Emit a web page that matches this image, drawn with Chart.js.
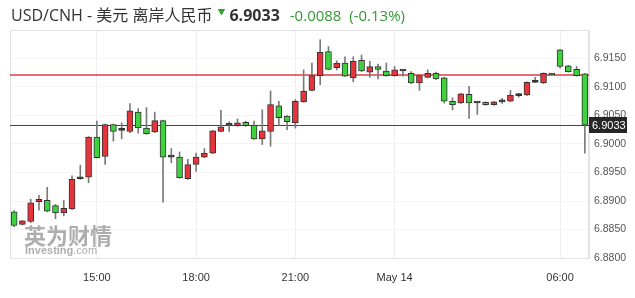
<!DOCTYPE html>
<html>
<head>
<meta charset="utf-8">
<script src="https://cdn.jsdelivr.net/npm/chart.js@4.4.0/dist/chart.umd.min.js"></script>
<style>
html,body{margin:0;padding:0;background:#fff;}
#wrap{position:relative;width:635px;height:298px;overflow:hidden;}
#head{position:absolute;left:11px;top:2px;font-family:"Open Sans","Noto Sans CJK SC",sans-serif;font-size:16px;color:#333;white-space:nowrap;z-index:2;}
#head .arr{color:#2fa52f;font-size:8px;vertical-align:6px;margin-left:5px;}
#head .px{font-weight:bold;margin-left:4px;}
#head .chg{color:#339933;font-size:15px;margin-left:10px;}
canvas{position:absolute;left:0;top:0;}
</style>
</head>
<body>
<div id="wrap">
  <div id="head">USD/CNH - 美元 离岸人民币<span class="arr">▼</span><span class="px">6.9033</span><span class="chg">-0.0088&nbsp; (-0.13%)</span></div>
  <canvas id="c" width="635" height="298"></canvas>
</div>
<script>
// 15 minute candles, USD/CNH
const labels = ['12:30','12:45','13:00','13:15','13:30','13:45','14:00','14:15','14:30','14:45',
  '15:00','15:15','15:30','15:45','16:00','16:15','16:30','16:45','17:00','17:15',
  '17:30','17:45','18:00','18:15','18:30','18:45','19:00','19:15','19:30','19:45',
  '20:00','20:15','20:30','20:45','21:00','21:15','21:30','21:45','22:00','22:15',
  '22:30','22:45','23:00','23:15','23:30','23:45','May 14','00:15','00:30','00:45',
  '01:00','01:15','01:30','01:45','02:00','02:15','02:30','02:45','03:00','03:15',
  '03:30','03:45','04:00','04:15','04:30','04:45','06:00','06:15','06:30','06:45'];
const shownLabels = ['15:00','18:00','21:00','May 14','06:00'];

const open  = [6.8881,6.8859,6.8864,6.8899,6.8901,6.8892,6.8879,6.8886,6.8939,6.8942,
  6.9012,6.8978,6.9034,6.9024,6.9022,6.9056,6.9028,6.9021,6.9041,6.8977,
  6.8977,6.8939,6.8964,6.8977,6.8984,6.9022,6.9033,6.9032,6.9038,6.9033,
  6.9009,6.9022,6.9067,6.9049,6.9037,6.9074,6.9094,6.9120,6.9162,6.9134,
  6.9142,6.9116,6.9147,6.9126,6.9136,6.9128,6.9120,6.9128,6.9124,6.9107,
  6.9117,6.9124,6.9116,6.9075,6.9072,6.9087,6.9072,6.9073,6.9069,6.9074,
  6.9075,6.9085,6.9086,6.9108,6.9107,6.9123,6.9165,6.9137,6.9131,6.9123];
const high  = [6.8883,6.8866,6.8903,6.8910,6.8924,6.8894,6.8901,6.8944,6.8963,6.9013,
  6.9040,6.9035,6.9035,6.9037,6.9071,6.9062,6.9064,6.9056,6.9042,6.8992,
  6.8986,6.8973,6.8984,6.8992,6.9024,6.9059,6.9039,6.9044,6.9040,6.9040,
  6.9060,6.9093,6.9075,6.9050,6.9078,6.9130,6.9142,6.9183,6.9171,6.9146,
  6.9153,6.9153,6.9156,6.9145,6.9140,6.9142,6.9136,6.9128,6.9127,6.9121,
  6.9130,6.9126,6.9117,6.9081,6.9089,6.9101,6.9073,6.9074,6.9075,6.9080,
  6.9094,6.9089,6.9109,6.9117,6.9125,6.9124,6.9166,6.9138,6.9136,6.9124];
const low   = [6.8855,6.8858,6.8862,6.8884,6.8881,6.8869,6.8874,6.8885,6.8938,6.8932,
  6.8975,6.8964,6.9005,6.9009,6.9020,6.9019,6.9017,6.9020,6.8898,6.8967,
  6.8940,6.8938,6.8952,6.8976,6.8983,6.9021,6.9022,6.9031,6.9031,6.9008,
  6.8999,6.8996,6.9033,6.9025,6.9028,6.9073,6.9093,6.9104,6.9130,6.9130,
  6.9118,6.9109,6.9127,6.9117,6.9114,6.9119,6.9119,6.9119,6.9106,6.9094,
  6.9116,6.9113,6.9072,6.9060,6.9071,6.9045,6.9052,6.9068,6.9068,6.9071,
  6.9074,6.9082,6.9085,6.9108,6.9106,6.9121,6.9133,6.9126,6.9119,6.8984];
const close = [6.8857,6.8865,6.8897,6.8903,6.8882,6.8879,6.8887,6.8938,6.8939,6.9012,
  6.8976,6.9034,6.9022,6.9024,6.9058,6.9028,6.9018,6.9041,6.8977,6.8977,
  6.8941,6.8964,6.8977,6.8984,6.9023,6.9030,6.9033,6.9037,6.9032,6.9009,
  6.9023,6.9069,6.9046,6.9039,6.9075,6.9093,6.9120,6.9161,6.9131,6.9142,
  6.9119,6.9145,6.9128,6.9136,6.9131,6.9120,6.9130,6.9128,6.9107,6.9120,
  6.9124,6.9114,6.9075,6.9069,6.9088,6.9072,6.9072,6.9069,6.9074,6.9074,
  6.9086,6.9085,6.9108,6.9108,6.9124,6.9121,6.9136,6.9127,6.9120,6.9033];

const prevClose = 6.9121;
const lastPrice = 6.9033;
const yTicksMin = 6.88, yTicksMax = 6.92, yStep = 0.005;

const UP = '#e5343b', DOWN = '#3fd13f', FLAT = '#222';
const bodies = open.map((o, i) => [Math.min(o, close[i]), Math.max(o, close[i])]);
const wicks = low.map((l, i) => [l, high[i]]);
const bodyColors = open.map((o, i) => close[i] > o ? UP : close[i] < o ? DOWN : FLAT);

function hLine(ctx, a, py, color, lw){
  ctx.save();
  ctx.lineWidth = lw;
  ctx.strokeStyle = color;
  ctx.beginPath();
  ctx.moveTo(a.left, py);
  ctx.lineTo(a.right, py);
  ctx.stroke();
  ctx.restore();
}

const extras = {
  id: 'extras',
  beforeDatasetsDraw(chart){
    const {ctx, chartArea: a, scales: {y}} = chart;
    ctx.save();
    // plot frame
    ctx.strokeStyle = '#e2e2e2';
    ctx.lineWidth = 1;
    ctx.strokeRect(a.left + 0.5, a.top + 0.5, a.right - a.left - 1, a.bottom - a.top);
    // watermark
    ctx.fillStyle = 'rgba(120,120,120,0.6)';
    ctx.font = 'bold 22px "Noto Sans CJK SC"';
    ctx.textBaseline = 'alphabetic';
    ctx.fillText('英为财情', 24, 244);
    ctx.font = 'bold 11px "Liberation Sans", Arial';
    ctx.fillText('Investing', 25, 254);
    const w = ctx.measureText('Investing').width;
    ctx.font = '11px "Liberation Sans", Arial';
    ctx.fillText('.com', 25 + w, 254);
    ctx.restore();
    // previous close and last price lines
    hLine(ctx, a, Math.round(y.getPixelForValue(prevClose)), 'rgba(220,60,70,0.75)', 2);
    hLine(ctx, a, Math.round(y.getPixelForValue(lastPrice)) + 0.5, '#444', 1);
  },
  afterDraw(chart){
    const {ctx, chartArea: a, scales: {y}} = chart;
    const py = y.getPixelForValue(lastPrice);
    ctx.save();
    ctx.fillStyle = '#262626';
    ctx.fillRect(a.right, Math.round(py) - 8, 38, 16);
    ctx.fillStyle = '#fff';
    ctx.font = '11px "Liberation Sans", Arial';
    ctx.textBaseline = 'middle';
    ctx.fillText(lastPrice.toFixed(4), a.right + 3, Math.round(py) + 0.5);
    ctx.restore();
  }
};

new Chart(document.getElementById('c'), {
  type: 'bar',
  data: {
    labels,
    datasets: [
      { data: bodies, backgroundColor: bodyColors, borderColor: '#333', borderWidth: 1,
        borderSkipped: false, barThickness: 6, minBarLength: 2, grouped: false, order: 1 },
      { data: wicks, backgroundColor: '#7a7a7a', borderWidth: 0, barThickness: 1,
        grouped: false, order: 2 }
    ]
  },
  options: {
    responsive: false,
    animation: false,
    layout: { padding: { left: 10, top: 30, right: 0, bottom: 0 } },
    plugins: { legend: { display: false }, tooltip: { enabled: false } },
    scales: {
      x: {
        afterFit: s => { s.height = 40; },
        grid: {
          offset: false, drawTicks: false,
          color: c => (c.tick && shownLabels.includes(labels[c.index])) ? '#eeeeee' : 'rgba(0,0,0,0)'
        },
        border: { color: '#dddddd' },
        ticks: {
          autoSkip: false, maxRotation: 0, padding: 13, color: '#333',
          font: { family: '"Liberation Sans", Arial', size: 11 },
          callback: (v, i) => shownLabels.includes(labels[i]) ? labels[i] : ''
        }
      },
      y: {
        position: 'right',
        min: yTicksMin, max: yTicksMax,
        afterFit: s => { s.width = 46; },
        grid: { color: '#f4f4f4', drawTicks: false },
        border: { color: '#e2e2e2' },
        ticks: {
          stepSize: yStep, padding: 5, color: '#555',
          font: { family: '"Liberation Sans", Arial', size: 10.5 },
          callback: v => v > 6.9175 ? '' : Number(v).toFixed(4)
        }
      }
    }
  },
  plugins: [extras]
});
</script>
</body>
</html>
